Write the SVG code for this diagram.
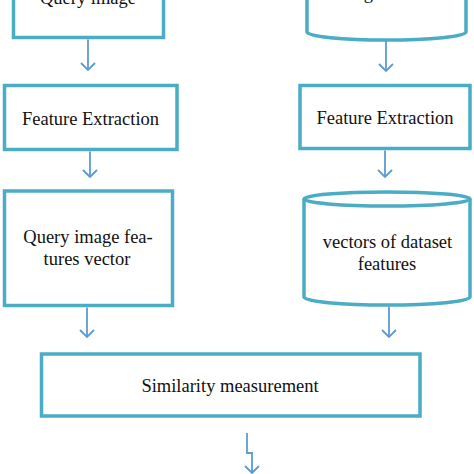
<svg xmlns="http://www.w3.org/2000/svg" width="474" height="474" viewBox="0 0 474 474">
<style>
.box{fill:#fff;stroke:#4BACC6;stroke-width:3.5}
.lbl{font-family:"Liberation Serif","Times New Roman",serif;font-size:18.5px;fill:#111;text-anchor:middle}
.conn{fill:none;stroke:#5B9BD5;stroke-width:1.8}
</style>
<defs>
<marker id="ah" markerUnits="userSpaceOnUse" markerWidth="20" markerHeight="20" refX="10" refY="10" orient="auto" viewBox="0 0 20 20">
<polyline points="3,3 10,10 3,17" fill="none" stroke="#5B9BD5" stroke-width="1.8"/>
</marker>
</defs>
<rect width="474" height="474" fill="#fff"/>
<g id="query-image">
<rect class="box" x="13.5" y="-20" width="150" height="57.5"/>
<text class="lbl" x="88" y="4">Query image</text>
</g>
<g id="image-dataset">
<path class="box" d="M307,-20 L307,32 A79.5,8 0 0 0 466,32 L466,-20"/>
<text class="lbl" x="386" y="-1">Image dataset</text>
</g>
<g id="fe-left">
<rect class="box" x="4.5" y="85.5" width="172.5" height="64"/>
<text class="lbl" x="90.5" y="125">Feature Extraction</text>
</g>
<g id="fe-right">
<rect class="box" x="300" y="85.5" width="170" height="63"/>
<text class="lbl" x="385" y="124">Feature Extraction</text>
</g>
<g id="query-features">
<rect class="box" x="4.5" y="191" width="168" height="114.5"/>
<text class="lbl" x="88" y="243">Query image fea-</text>
<text class="lbl" x="87" y="265">tures vector</text>
</g>
<g id="dataset-features">
<path class="box" d="M304,199 L304,297 A83,8 0 0 0 470,297 L470,199"/>
<ellipse class="box" cx="387" cy="199" rx="83" ry="7"/>
<text class="lbl" x="387.5" y="248">vectors of dataset</text>
<text class="lbl" x="387" y="270">features</text>
</g>
<g id="similarity">
<rect class="box" x="41.5" y="354" width="378.5" height="62"/>
<text class="lbl" x="230" y="392">Similarity measurement</text>
</g>
<g id="connectors">
<line class="conn" x1="88" y1="39.5" x2="88" y2="70" marker-end="url(#ah)"/>
<line class="conn" x1="90" y1="151.5" x2="90" y2="177" marker-end="url(#ah)"/>
<line class="conn" x1="87" y1="307.5" x2="87" y2="337" marker-end="url(#ah)"/>
<line class="conn" x1="386" y1="41" x2="386" y2="71" marker-end="url(#ah)"/>
<line class="conn" x1="385" y1="150.5" x2="385" y2="177" marker-end="url(#ah)"/>
<line class="conn" x1="389" y1="306.5" x2="389" y2="337" marker-end="url(#ah)"/>
<polyline class="conn" points="247,433 247,453 252,453 252,473" marker-end="url(#ah)"/>
</g>
</svg>
